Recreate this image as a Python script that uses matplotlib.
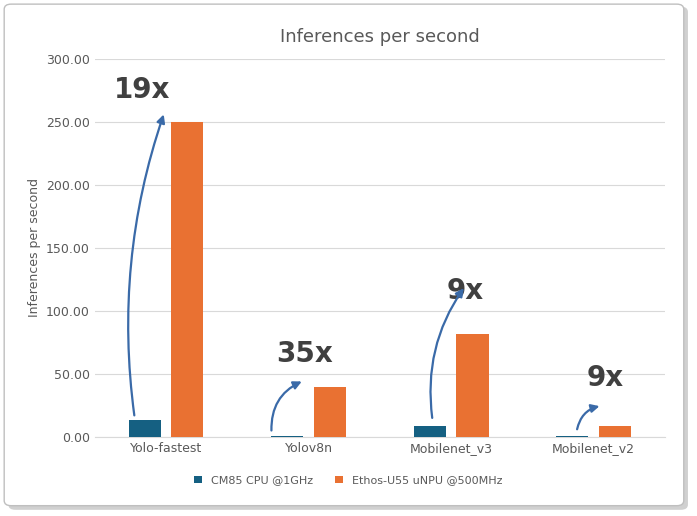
import matplotlib
matplotlib.use("Agg")
import matplotlib.pyplot as plt
from matplotlib.patches import FancyBboxPatch
import numpy as np

models = ["Yolo-fastest", "Yolov8n", "Mobilenet_v3", "Mobilenet_v2"]
cpu = [13.3, 1.1, 8.8, 1.0]
npu = [250.0, 40.0, 82.0, 9.0]
speedups = ["19x", "35x", "9x", "9x"]
series_names = ["CM85 CPU @1GHz", "Ethos-U55 uNPU @500MHz"]

fig = plt.figure(figsize=(6.97, 5.16), dpi=100)
fig.patches.append(FancyBboxPatch((0.012, 0.012), 0.975, 0.975, boxstyle="round,pad=0,rounding_size=0.01",
                                  transform=fig.transFigure, fc="#d0d0d0", ec="none", zorder=-2))
fig.patches.append(FancyBboxPatch((0.006, 0.02), 0.975, 0.972, boxstyle="round,pad=0,rounding_size=0.01",
                                  transform=fig.transFigure, fc="white", ec="#bfbfbf", lw=1, zorder=-1))

ax = fig.add_axes([0.136, 0.153, 0.818, 0.733], zorder=2)
ax.set_facecolor("none")
x = np.arange(len(models))
w = 0.225
ax.bar(x - 0.15, cpu, w, color="#156082", label=series_names[0], zorder=3)
ax.bar(x + 0.15, npu, w, color="#E97132", label=series_names[1], zorder=3)

ax.set_xlim(-0.5, 3.5)
ax.set_ylim(0, 300)
ticks = np.arange(0, 301, 50)
ax.set_yticks(ticks)
ax.set_yticklabels([f"{v:.2f}" for v in ticks], fontsize=9, color="#595959")
ax.set_xticks(x)
ax.set_xticklabels(models, fontsize=9, color="#595959")
ax.tick_params(length=0)
ax.grid(axis="y", color="#d9d9d9", lw=0.8, zorder=0)
for s in ["top", "right", "left"]:
    ax.spines[s].set_visible(False)
ax.spines["bottom"].set_color("#d9d9d9")
ax.set_ylabel("Inferences per second", fontsize=9, color="#595959")
ax.set_title("Inferences per second", fontsize=13, color="#595959", pad=12)

# arrow offsets relative to category centre
arrows = [((-0.22, 15), (-0.01, 258), -0.12), ((-0.26, 3), (-0.03, 45), -0.35),
          ((-0.13, 13), (0.1, 120), -0.2), ((-0.12, 4), (0.06, 25), -0.35)]
labels_pos = [(-0.17, 275), (-0.03, 66), (0.1, 116), (0.08, 47)]
for i, ((s, e, r), lp, t) in enumerate(zip(arrows, labels_pos, speedups)):
    ax.annotate("", xy=(i + e[0], e[1]), xytext=(i + s[0], s[1]),
                arrowprops=dict(arrowstyle="-|>", color="#3A6AA8", lw=1.6,
                                connectionstyle=f"arc3,rad={r}", mutation_scale=12), zorder=5)
    ax.text(i + lp[0], lp[1], t, fontsize=20, fontweight="bold", color="#404040", ha="center", va="center")

fig.legend(loc="lower center", bbox_to_anchor=(0.5, 0.04), ncol=2, frameon=False, fontsize=8,
           handlelength=0.7, handleheight=0.7, labelcolor="#595959")
fig.savefig("out.png", dpi=100)
